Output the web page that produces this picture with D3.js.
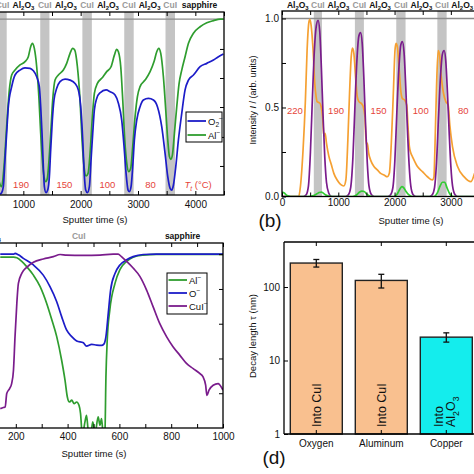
<!DOCTYPE html>
<html>
<head>
<meta charset="utf-8">
<script src="https://cdn.jsdelivr.net/npm/d3@7"></script>
<style>
  html, body { margin: 0; padding: 0; background: #fff; }
  svg { display: block; font-family: "Liberation Sans", Arial, sans-serif; }
</style>
</head>
<body>
<div id="wrapper"></div>
<script>
// ---------- data ----------
// CuI layer positions (sputter time, s)
const cuiBands = [[565, 710], [1295, 1455], [2030, 2195], [2760, 2925], [3480, 3645]];
const layerNames = ["Al2O3", "CuI", "Al2O3", "CuI", "Al2O3", "CuI", "Al2O3", "CuI", "Al2O3", "CuI", "sapphire"];
const layerTimes = [280, 637, 1002, 1375, 1742, 2112, 2477, 2842, 3202, 3562, 4072];
const tempLabels = ["220", "190", "150", "100", "80"];
const tempTimes = [230, 960, 1715, 2465, 3220];

// (a) normalised intensity vs time
const aOxygen = [[593,0.006],[622,0.013],[651,0.047],[680,0.199],[709,0.35],[738,0.50],[797,0.616],[855,0.682],[942,0.71],[1029,0.723],[1117,0.72],[1175,0.706],[1233,0.672],[1279,0.616],[1303,0.502],[1326,0.35],[1349,0.161],[1367,0.047],[1396,0.013],[1425,0.028],[1454,0.104],[1477,0.256],[1506,0.426],[1535,0.54],[1582,0.606],[1640,0.644],[1727,0.659],[1815,0.653],[1902,0.634],[1960,0.597],[2001,0.502],[2036,0.313],[2059,0.142],[2088,0.028],[2117,0.013],[2152,0.047],[2181,0.199],[2210,0.35],[2239,0.483],[2280,0.549],[2338,0.581],[2443,0.597],[2513,0.587],[2600,0.568],[2658,0.521],[2716,0.426],[2757,0.275],[2792,0.123],[2827,0.028],[2850,0.019],[2879,0.047],[2908,0.161],[2937,0.313],[2978,0.426],[3036,0.502],[3094,0.54],[3182,0.549],[3269,0.54],[3339,0.502],[3414,0.388],[3472,0.237],[3519,0.104],[3560,0.038],[3589,0.028],[3618,0.057],[3659,0.161],[3705,0.313],[3763,0.464],[3821,0.597],[3880,0.653],[3967,0.682],[4083,0.729],[4200,0.748],[4316,0.767],[4403,0.786],[4490,0.801]];
const aAluminum = [[560,0.1],[600,0.055],[622,0.047],[663,0.161],[709,0.388],[756,0.597],[797,0.682],[855,0.71],[942,0.739],[1029,0.758],[1087,0.786],[1128,0.843],[1157,0.862],[1192,0.833],[1233,0.729],[1274,0.54],[1303,0.35],[1332,0.199],[1361,0.104],[1390,0.076],[1419,0.095],[1448,0.199],[1477,0.35],[1512,0.54],[1553,0.653],[1611,0.682],[1698,0.71],[1756,0.748],[1815,0.805],[1861,0.833],[1896,0.824],[1943,0.729],[1989,0.54],[2024,0.313],[2059,0.161],[2094,0.108],[2129,0.123],[2164,0.237],[2204,0.445],[2239,0.578],[2292,0.634],[2367,0.663],[2454,0.701],[2530,0.729],[2588,0.795],[2629,0.828],[2658,0.814],[2699,0.729],[2734,0.54],[2769,0.313],[2804,0.18],[2838,0.133],[2873,0.152],[2908,0.275],[2949,0.445],[2990,0.559],[3036,0.616],[3123,0.653],[3211,0.701],[3280,0.758],[3327,0.814],[3362,0.833],[3397,0.805],[3443,0.672],[3484,0.483],[3519,0.313],[3548,0.218],[3571,0.203],[3600,0.227],[3635,0.35],[3676,0.502],[3717,0.634],[3763,0.71],[3821,0.786],[3880,0.862],[3967,0.919],[4083,0.956],[4200,0.979],[4316,0.991],[4432,1.0],[4490,1.0]];

// (b) intensity I (arb. units)
const bOrange = [[0,0],[297,0],[327,0.055],[374,0.261],[416,0.542],[446,0.823],[475,0.973],[493,0.995],[517,0.963],[552,0.823],[582,0.636],[606,0.561],[624,0.533],[671,0.525],[695,0.505],[720,0.45],[740,0.355],[754,0.34],[766,0.355],[790,0.30],[830,0.23],[880,0.175],[921,0.13],[980,0.093],[1040,0.068],[1099,0.059],[1135,0.093],[1170,0.317],[1200,0.58],[1230,0.786],[1253,0.834],[1277,0.804],[1307,0.673],[1337,0.561],[1366,0.533],[1408,0.523],[1443,0.505],[1473,0.448],[1490,0.33],[1503,0.29],[1515,0.30],[1540,0.243],[1580,0.20],[1634,0.168],[1693,0.15],[1752,0.13],[1812,0.121],[1871,0.111],[1907,0.13],[1942,0.299],[1978,0.58],[2008,0.823],[2026,0.86],[2049,0.842],[2079,0.729],[2109,0.598],[2138,0.551],[2180,0.542],[2216,0.514],[2239,0.392],[2263,0.28],[2290,0.243],[2317,0.224],[2406,0.168],[2495,0.14],[2584,0.111],[2673,0.093],[2700,0.11],[2715,0.25],[2744,0.6],[2774,0.82],[2798,0.80],[2822,0.70],[2869,0.58],[2911,0.533],[2952,0.514],[2982,0.40],[3029,0.28],[3119,0.168],[3237,0.11],[3356,0.083],[3421,0.13]];
const bPurple = [[0,0],[380,0],[430,0.01],[470,0.06],[505,0.25],[540,0.55],[575,0.82],[610,0.96],[641,0.99],[670,0.93],[700,0.72],[730,0.45],[760,0.22],[790,0.08],[830,0.02],[880,0],[1130,0],[1180,0.01],[1220,0.05],[1260,0.22],[1295,0.5],[1330,0.76],[1365,0.9],[1396,0.92],[1425,0.86],[1455,0.66],[1485,0.4],[1515,0.19],[1545,0.06],[1590,0.01],[1640,0],[1880,0],[1930,0.01],[1970,0.05],[2005,0.2],[2040,0.47],[2075,0.71],[2110,0.85],[2138,0.87],[2168,0.81],[2198,0.62],[2228,0.38],[2258,0.18],[2288,0.06],[2330,0.01],[2380,0],[2620,0],[2670,0.01],[2710,0.05],[2745,0.19],[2780,0.44],[2815,0.67],[2850,0.8],[2880,0.82],[2910,0.76],[2940,0.58],[2970,0.36],[3000,0.17],[3030,0.06],[3075,0.01],[3120,0],[3420,0]];
const bGreen = [[0,0.025],[40,0.02],[90,0.005],[150,0],[450,0],[560,0.005],[620,0.015],[660,0.022],[700,0.025],[730,0.02],[770,0.01],[830,0.002],[900,0],[1250,0],[1330,0.01],[1380,0.025],[1420,0.03],[1460,0.028],[1500,0.015],[1560,0.003],[1620,0],[1990,0],[2050,0.015],[2100,0.045],[2130,0.055],[2160,0.05],[2200,0.03],[2250,0.01],[2320,0],[2700,0],[2760,0.02],[2810,0.06],[2850,0.08],[2890,0.08],[2930,0.05],[2980,0.015],[3040,0],[3420,0]];

// (c) counts (log) vs time
const cAluminum = [[140,8.2e4],[191,8.2e4],[204,7.9e4],[223,6.2e4],[242,4.4e4],[268,2.5e4],[294,1.17e4],[319,3.9e3],[339,1.3e3],[358,425],[377,89],[390,23.8],[399,7.8],[407,5.6],[416,6.3],[425,5.0],[435,5.6],[444,4.5],[450,2.6],[457,0.6],[467,1.5],[473,2.3],[480,0.8],[489,0.6],[497,1.5],[506,0.7],[518,2.1],[525,1.2],[531,1.86],[538,0.6],[544,0.7],[548,29.5],[553,340],[563,2.5e3],[583,1.45e4],[602,3.6e4],[628,6.2e4],[653,8.2e4],[692,9.4e4],[743,9.9e4],[1000,9.9e4]];
const cOxygen = [[140,1.0e5],[191,1.0e5],[197,1.05e5],[210,9.6e4],[229,7.6e4],[268,4.9e4],[306,2.5e4],[332,1.17e4],[358,4.3e3],[377,1.6e3],[396,660],[416,425],[435,320],[461,282],[473,227],[493,255],[512,242],[531,237],[540,258],[548,425],[557,2.0e3],[566,9.3e3],[583,2.8e4],[602,4.9e4],[628,6.9e4],[653,8.5e4],[692,9.8e4],[743,1.0e5],[1000,1.0e5]];
const cCopper = [[140,3.6],[152,3.9],[159,4.0],[165,9.8],[176,13.6],[184,19],[191,46],[197,425],[204,3.9e3],[210,1.45e4],[223,2.8e4],[242,4.2e4],[268,5.9e4],[306,7.3e4],[345,8.5e4],[371,9.8e4],[396,9.4e4],[461,9.2e4],[525,9.4e4],[576,1.0e5],[595,1.0e5],[608,8.5e4],[628,6.2e4],[653,4.0e4],[679,2.3e4],[705,9.3e3],[730,3.1e3],[756,1.0e3],[782,425],[807,217],[833,125],[859,72],[885,51],[910,37],[923,29.5],[933,17],[938,8.7],[946,12.2],[962,17],[981,19],[1000,12.2]];
const cLayerNames = ["Al2O3", "CuI", "sapphire"];
const cLayerTimes = [100, 443, 844];

// (d) decay lengths
const barNames = ["Oxygen", "Aluminum", "Copper"];
const barValues = [212, 123, 20.8];
const barErrors = [25, 26, 3];
const barNotes = [["Into CuI"], ["Into CuI"], ["Into", "Al2O3"]];

// ---------- styling ----------
const blue = "#1c1cc8", green = "#2f9d2f", purple = "#7a1c8c", orange = "#f5a032";
const bandGray = "#c4c4c4", red = "#e5443a";

const svg = d3.select("#wrapper").append("svg").attr("width", 474).attr("height", 474);

// text with sub/superscripts; "Al2O3" style names handled by rich()
function rich(text, parts, size) {
  let shift = 0;
  parts.forEach(([s, m, italic]) => {
    const target = m === "sub" ? size * 0.3 : m === "sup" ? -size * 0.38 : 0;
    const sp = text.append("tspan").attr("dy", target - shift).text(s);
    if (m) sp.style("font-size", (size * 0.7) + "px");
    if (italic) sp.style("font-style", "italic");
    shift = target;
  });
}
function nameParts(n) {
  if (n === "Al2O3") return [["Al"], ["2", "sub"], ["O"], ["3", "sub"]];
  return [[n]];
}

function clip(id, x0, y0, x1, y1) {
  svg.append("clipPath").attr("id", id).append("rect")
    .attr("x", x0).attr("y", y0).attr("width", x1 - x0).attr("height", y1 - y0);
  return `url(#${id})`;
}

function axisStyle(g) {
  g.select(".domain").remove();
  g.attr("font-family", null).attr("font-size", null);
  g.selectAll("line").attr("stroke", "#000");
  g.selectAll("text").attr("fill", "#111").style("font-size", "10px");
}

function plotLine(g, data, x, y, color, clipUrl) {
  g.append("path").datum(data)
    .attr("fill", "none").attr("stroke", color).attr("stroke-width", 1.7)
    .attr("stroke-linejoin", "round").attr("clip-path", clipUrl)
    .attr("d", d3.line().x(d => x(d[0])).y(d => y(d[1])).curve(d3.curveMonotoneX));
}

function layerLabels(g, names, times, x, yBase) {
  names.forEach((n, i) => {
    const t = g.append("text").attr("x", x(times[i])).attr("y", yBase)
      .attr("text-anchor", "middle").style("font-size", "8.5px").style("font-weight", "bold")
      .attr("fill", n === "CuI" ? "#9a9a9a" : "#111");
    rich(t, nameParts(n), 8.5);
  });
}

function legend(g, x0, y0, w, h, items) {
  g.append("rect").attr("x", x0).attr("y", y0).attr("width", w).attr("height", h)
    .attr("fill", "#fff").attr("stroke", "#000").attr("stroke-width", 1);
  items.forEach((it, i) => {
    const yy = y0 + it.dy;
    g.append("line").attr("x1", x0 + 1.5).attr("x2", x0 + 20).attr("y1", yy).attr("y2", yy)
      .attr("stroke", it.color).attr("stroke-width", 1.8);
    const t = g.append("text").attr("x", x0 + 22).attr("y", yy + 3.5).style("font-size", "9.5px").attr("fill", "#111");
    rich(t, it.parts, 9.5);
  });
}

// ---------- panel (a) ----------
{
  const x = d3.scaleLinear().domain([0, 4500]).range([-34, 224]);
  const y = d3.scaleLinear().domain([0, 1.04]).range([195, 12]);
  const g = svg.append("g");
  const cp = clip("clipA", -34, 12, 224, 195);
  g.selectAll("rect.band").data(cuiBands).join("rect")
    .attr("x", d => x(d[0])).attr("width", d => x(d[1]) - x(d[0]))
    .attr("y", 12).attr("height", 183).attr("fill", bandGray);
  g.append("line").attr("x1", -34).attr("x2", 224).attr("y1", y(1)).attr("y2", y(1))
    .attr("stroke", "#8c8c8c").attr("stroke-width", 1.3);
  plotLine(g, aAluminum, x, y, green, cp);
  plotLine(g, aOxygen, x, y, blue, cp);

  g.append("g").attr("transform", "translate(0,195)")
    .call(d3.axisBottom(x).tickValues(d3.range(0, 4501, 500)).tickSizeInner(-4).tickSizeOuter(0).tickPadding(6)
      .tickFormat(d => d % 1000 === 0 && d > 0 ? d : "")).call(axisStyle);
  g.append("g").attr("transform", "translate(0,12)")
    .call(d3.axisTop(x).tickValues(d3.range(0, 4501, 500)).tickSizeInner(-4).tickSizeOuter(0).tickFormat("")).call(axisStyle);
  g.append("g").attr("transform", "translate(224,0)")
    .call(d3.axisLeft(y).tickValues([0.165, 0.33, 0.5, 0.665, 0.83]).tickSizeInner(4).tickSizeOuter(0).tickFormat("")).call(axisStyle);
  g.append("rect").attr("x", -34).attr("y", 12).attr("width", 258).attr("height", 183)
    .attr("fill", "none").attr("stroke", "#000").attr("stroke-width", 1.3);

  layerLabels(g, layerNames, layerTimes, x, 7.5);
  tempLabels.forEach((s, i) => g.append("text").attr("x", x(tempTimes[i])).attr("y", 188)
    .attr("text-anchor", "middle").style("font-size", "9.5px").attr("fill", red).text(s));
  const tt = g.append("text").attr("x", x(4048)).attr("y", 188).attr("text-anchor", "middle")
    .style("font-size", "9.5px").attr("fill", red);
  rich(tt, [["T", null, true], ["t", "sub", true], [" (°C)"]], 9.5);

  legend(g, 186, 112, 36, 30, [
    { dy: 9, color: blue, parts: [["O"], ["2", "sub"], ["−", "sup"]] },
    { dy: 23, color: green, parts: [["Al"], ["−", "sup"]] }
  ]);
  g.append("text").attr("x", 95).attr("y", 223).attr("text-anchor", "middle")
    .style("font-size", "9.5px").attr("fill", "#111").text("Sputter time (s)");
}

// ---------- panel (b) ----------
{
  const x = d3.scaleLinear().domain([0, 3500]).range([282, 479]);
  const y = d3.scaleLinear().domain([0, 1.042]).range([196.5, 11]);
  const g = svg.append("g");
  const cp = clip("clipB", 282, 11, 479, 196.5);
  g.selectAll("rect.band").data(cuiBands).join("rect")
    .attr("x", d => x(d[0])).attr("width", d => x(d[1]) - x(d[0]))
    .attr("y", 11).attr("height", 185.5).attr("fill", bandGray);
  g.append("line").attr("x1", 282).attr("x2", 479).attr("y1", y(1)).attr("y2", y(1))
    .attr("stroke", "#8c8c8c").attr("stroke-width", 1.3);
  plotLine(g, bOrange, x, y, orange, cp);
  plotLine(g, bPurple, x, y, purple, cp);
  plotLine(g, bGreen, x, y, "#33cc33", cp);

  g.append("g").attr("transform", "translate(0,196.5)")
    .call(d3.axisBottom(x).tickValues(d3.range(0, 3501, 500)).tickSizeInner(-4).tickSizeOuter(0).tickPadding(2)
      .tickFormat(d => d % 1000 === 0 ? d : "")).call(axisStyle);
  g.append("g").attr("transform", "translate(0,11)")
    .call(d3.axisTop(x).tickValues(d3.range(0, 3501, 500)).tickSizeInner(-4).tickSizeOuter(0).tickFormat("")).call(axisStyle);
  g.append("g").attr("transform", "translate(282,0)")
    .call(d3.axisLeft(y).tickValues([0, 0.25, 0.5, 0.75, 1.0]).tickSizeInner(-4).tickSizeOuter(0).tickPadding(3)
      .tickFormat(d => d % 0.5 === 0 ? d3.format(".1f")(d) : "")).call(axisStyle);
  g.append("rect").attr("x", 282).attr("y", 11).attr("width", 197).attr("height", 185.5)
    .attr("fill", "none").attr("stroke", "#000").attr("stroke-width", 1.3);

  layerLabels(g, layerNames, layerTimes, x, 7.5);
  tempLabels.forEach((s, i) => g.append("text").attr("x", x(tempTimes[i])).attr("y", 114)
    .attr("text-anchor", "middle").style("font-size", "9.5px").attr("fill", red).text(s));

  const yl = g.append("text").attr("transform", "translate(255.5,100) rotate(-90)")
    .attr("text-anchor", "middle").style("font-size", "9px").attr("fill", "#111");
  rich(yl, [["Intensity "], ["I", null, true], [" / (arb. units)"]], 9);
  g.append("text").attr("x", 411).attr("y", 224).attr("text-anchor", "middle")
    .style("font-size", "9.5px").attr("fill", "#111").text("Sputter time (s)");
  g.append("text").attr("x", 270).attr("y", 227).attr("text-anchor", "middle")
    .style("font-size", "19px").attr("fill", "#111").text("(b)");
}

// ---------- panel (c) ----------
{
  const x = d3.scaleLinear().domain([0, 1000]).range([-36, 223]);
  const y = d3.scaleLog().domain([1, 2.1e5]).range([428, 243]);
  const g = svg.append("g");
  const cp = clip("clipC", -36, 243, 223, 428);
  plotLine(g, cAluminum, x, y, green, cp);
  plotLine(g, cOxygen, x, y, blue, cp);
  plotLine(g, cCopper, x, y, purple, cp);

  g.append("g").attr("transform", "translate(0,428)")
    .call(d3.axisBottom(x).tickValues(d3.range(0, 1001, 100)).tickSizeInner(-4).tickSizeOuter(0).tickPadding(5)
      .tickFormat(d => d % 200 === 0 && d > 0 ? d : "")).call(axisStyle);
  g.append("g").attr("transform", "translate(0,243)")
    .call(d3.axisTop(x).tickValues(d3.range(0, 1001, 100)).tickSizeInner(-4).tickSizeOuter(0).tickFormat("")).call(axisStyle);
  g.append("g").attr("transform", "translate(223,0)")
    .call(d3.axisLeft(y).tickValues([10, 100, 1e3, 1e4, 1e5]).tickSizeInner(4).tickSizeOuter(0).tickFormat("")).call(axisStyle);
  g.append("rect").attr("x", -36).attr("y", 243).attr("width", 259).attr("height", 185)
    .attr("fill", "none").attr("stroke", "#000").attr("stroke-width", 1.3);

  layerLabels(g, cLayerNames, cLayerTimes, x, 239);
  legend(g, 167, 273, 40, 41, [
    { dy: 7, color: green, parts: [["Al"], ["−", "sup"]] },
    { dy: 20, color: blue, parts: [["O"], ["−", "sup"]] },
    { dy: 33, color: purple, parts: [["CuI"], ["−", "sup"]] }
  ]);
  g.append("text").attr("x", 94).attr("y", 457).attr("text-anchor", "middle")
    .style("font-size", "9.5px").attr("fill", "#111").text("Sputter time (s)");
}

// ---------- panel (d) ----------
{
  const x = d3.scaleBand().domain(barNames).range([284, 478.6]).paddingInner(0.2).paddingOuter(0.097);
  const y = d3.scaleLog().domain([1, 410]).range([434, 242]);
  const g = svg.append("g");

  g.selectAll("rect.bar").data(barNames).join("rect")
    .attr("x", d => x(d)).attr("width", x.bandwidth())
    .attr("y", (d, i) => y(barValues[i])).attr("height", (d, i) => y(1) - y(barValues[i]))
    .attr("fill", (d, i) => i === 2 ? "#14eded" : "#f9c08f")
    .attr("stroke", "#222").attr("stroke-width", 1.4);

  barNames.forEach((d, i) => {
    const cx = x(d) + x.bandwidth() / 2;
    const lo = y(barValues[i] - barErrors[i]), hi = y(barValues[i] + barErrors[i]);
    g.append("line").attr("x1", cx).attr("x2", cx).attr("y1", lo).attr("y2", hi).attr("stroke", "#111").attr("stroke-width", 1.3);
    [lo, hi].forEach(v => g.append("line").attr("x1", cx - 3).attr("x2", cx + 3).attr("y1", v).attr("y2", v)
      .attr("stroke", "#111").attr("stroke-width", 1.3));
    const lines = barNotes[i];
    lines.forEach((s, k) => {
      const off = lines.length === 1 ? 4.5 : (k === 0 ? -3 : 9);
      const t = g.append("text").attr("transform", `translate(${cx + off},427) rotate(-90)`)
        .style("font-size", "12.5px").attr("fill", "#111");
      rich(t, nameParts(s), 12.5);
    });
  });

  g.append("g").attr("transform", "translate(0,434)")
    .call(d3.axisBottom(x).tickSizeInner(-4).tickSizeOuter(0).tickPadding(6)).call(axisStyle);
  g.append("g").attr("transform", "translate(0,242)")
    .call(d3.axisTop(x).tickSizeInner(-4).tickSizeOuter(0).tickFormat("")).call(axisStyle);
  g.append("g").attr("transform", "translate(284,0)")
    .call(d3.axisLeft(y).tickValues([1, 10, 100]).tickSizeInner(-4).tickSizeOuter(0).tickPadding(4)
      .tickFormat(d3.format("d"))).call(axisStyle);
  g.selectAll("text").filter(function () { return this.parentNode.classList && this.parentNode.classList.contains("tick"); });
  g.append("line").attr("x1", 284).attr("x2", 474).attr("y1", 434).attr("y2", 434).attr("stroke", "#000").attr("stroke-width", 1.3);
  g.append("line").attr("x1", 284).attr("x2", 474).attr("y1", 242).attr("y2", 242).attr("stroke", "#000").attr("stroke-width", 1.3);
  g.append("line").attr("x1", 284).attr("x2", 284).attr("y1", 242).attr("y2", 434).attr("stroke", "#000").attr("stroke-width", 1.3);

  g.append("text").attr("transform", "translate(255.5,336) rotate(-90)")
    .attr("text-anchor", "middle").style("font-size", "9.5px").attr("fill", "#111").text("Decay length τ (nm)");
  g.append("text").attr("x", 274).attr("y", 464).attr("text-anchor", "middle")
    .style("font-size", "19px").attr("fill", "#111").text("(d)");
}
</script>
</body>
</html>
